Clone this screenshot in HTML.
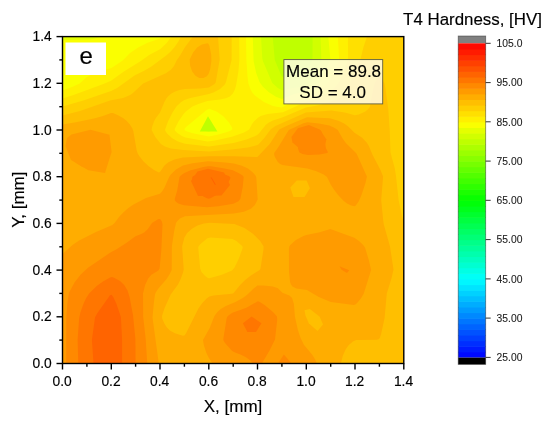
<!DOCTYPE html>
<html><head><meta charset="utf-8"><title>T4 Hardness map</title>
<style>
html,body{margin:0;padding:0;background:#fff;}
body{width:550px;height:423px;overflow:hidden;}
svg{display:block;font-family:"Liberation Sans",sans-serif;}
#axes text{stroke:#000;stroke-width:0.15px;}
#cbar text{stroke:#1a1a1a;stroke-width:0.1px;}
</style></head><body>
<svg width="550" height="423" viewBox="0 0 550 423">
<rect width="550" height="423" fill="#fff"/>
<g id="map">
<rect x="62.5" y="36.6" width="341.3" height="326.9" fill="#bfff00"/>
<path fill="#d1ff00" fill-rule="evenodd" d="M62.5,363.5 403.8,363.5 403.8,36.6 312.6,36.6 312.5,59.6 306.4,72.7 304.4,73.8 283.4,77.0 281.9,76.4 280.9,74.8 274.8,60.1 272.7,36.6 62.5,36.6Z"/>
<path fill="#e4ff00" fill-rule="evenodd" d="M62.5,363.5 403.8,363.5 403.8,36.6 320.5,36.6 321.4,60.1 310.8,82.6 308.6,84.6 305.9,85.9 292.9,87.9 282.4,90.2 280.9,89.8 277.9,87.9 272.3,83.1 263.1,61.6 262.3,58.6 261.0,36.6 62.5,36.6Z"/>
<path fill="#faff00" fill-rule="evenodd" d="M62.5,363.5 403.8,363.5 403.8,36.6 328.3,36.6 330.4,60.1 319.2,83.1 314.4,86.9 307.4,90.8 293.2,94.6 281.9,99.1 275.9,96.7 268.9,92.3 262.9,86.8 259.5,82.1 256.2,73.1 253.6,61.1 252.8,36.6 62.5,36.6ZM202.8,129.6 203.2,128.6 207.4,125.0 208.9,124.4 211.4,125.9 214.4,129.1 213.9,130.1 208.9,131.7 205.4,131.0Z"/>
<path fill="#fff000" fill-rule="evenodd" d="M62.5,363.5 403.8,363.5 403.8,36.6 337.8,36.6 339.2,60.1 335.2,69.6 327.7,83.6 322.3,88.5 315.8,92.6 309.4,95.5 295.0,100.6 281.9,107.4 278.1,107.1 272.9,105.9 263.9,102.1 254.9,95.6 252.6,93.1 250.8,90.1 248.4,83.6 247.4,75.5 246.4,60.1 246.0,36.6 161.6,36.6 159.4,38.7 147.5,42.8 138.5,47.3 130.0,53.0 122.7,60.6 111.5,67.9 100.0,71.1 92.0,74.2 86.5,77.3 79.7,83.6 72.0,87.0 62.5,90.4ZM184.5,130.1 184.7,128.6 186.4,126.8 206.9,109.8 209.4,108.7 216.9,111.8 223.6,116.6 229.0,122.6 231.7,127.1 232.4,129.1 231.0,130.6 227.1,132.1 217.4,134.8 208.9,136.6 192.9,133.2 186.4,131.2Z"/>
<path fill="#ffe000" fill-rule="evenodd" d="M62.5,363.5 403.8,363.5 403.8,36.6 347.9,36.6 348.1,58.1 347.7,61.1 343.9,72.1 339.7,81.6 337.3,85.1 333.3,88.9 326.3,94.1 320.8,97.1 314.6,99.6 304.4,102.6 282.9,112.3 267.5,114.1 260.6,116.1 257.6,118.1 253.9,121.6 251.9,124.3 249.2,129.6 244.0,132.6 231.9,136.8 214.9,140.6 207.4,141.5 185.4,137.4 181.9,135.9 177.4,133.0 174.9,130.6 174.7,129.1 178.5,121.6 183.4,114.2 185.9,111.6 192.4,106.6 198.4,103.9 207.4,101.1 219.9,99.6 225.9,98.3 229.9,96.5 232.9,93.6 234.7,90.1 236.1,85.6 238.4,71.6 239.4,59.6 239.2,36.6 171.4,36.6 166.9,42.7 160.4,48.9 149.1,55.1 140.8,61.1 123.5,71.8 111.0,80.8 103.4,84.1 73.5,95.0 62.5,98.5Z"/>
<path fill="#ffcf00" fill-rule="evenodd" d="M62.5,363.5 403.8,363.5 403.8,36.6 367.1,36.6 363.5,47.1 360.4,59.6 355.3,68.1 348.3,89.6 346.2,93.1 343.3,96.1 337.8,99.3 324.3,103.7 317.4,105.4 305.9,107.4 282.9,117.3 272.9,120.5 268.9,122.6 265.9,124.8 258.9,133.5 256.4,135.6 246.4,139.6 233.4,142.9 208.9,146.5 184.9,143.7 177.9,141.4 171.9,138.1 167.1,133.6 165.4,131.1 165.1,129.6 168.0,121.6 172.5,112.6 176.4,106.6 180.9,102.3 184.4,100.1 189.4,98.3 208.9,94.1 213.5,92.6 220.0,89.1 224.8,84.6 226.0,82.1 231.6,60.1 231.7,36.6 181.0,36.6 178.4,41.4 174.4,47.3 170.7,51.6 166.2,55.6 151.4,66.5 144.6,70.6 134.5,75.6 117.5,87.8 111.0,90.9 84.0,100.2 62.5,106.6Z"/>
<path fill="#ffbf00" fill-rule="evenodd" d="M62.5,363.5 403.8,363.5 403.8,221.9 401.8,215.3 398.6,200.1 396.0,176.1 394.8,168.6 390.5,152.6 389.7,130.1 388.3,109.6 385.6,89.1 384.4,83.1 380.8,77.3 379.8,76.7 378.8,77.0 374.6,83.6 369.8,107.1 367.8,109.5 365.3,111.4 358.8,114.5 354.8,115.3 344.8,112.4 331.3,110.6 305.9,112.4 275.4,125.9 270.6,129.6 264.3,138.1 258.4,144.4 255.9,145.6 247.9,147.4 231.9,149.6 208.9,151.4 183.4,150.0 170.9,148.4 164.9,146.6 160.9,144.0 155.3,137.1 151.6,130.1 152.2,126.6 154.2,121.1 156.2,117.6 159.9,112.7 164.4,102.1 166.3,98.6 168.4,96.0 171.4,93.5 175.1,91.6 179.6,90.1 184.9,89.1 200.4,88.6 208.9,87.6 214.6,84.1 215.7,82.6 219.7,59.6 218.0,36.6 193.0,36.6 184.9,47.3 180.4,55.1 176.9,60.1 174.0,66.1 170.9,69.8 165.9,73.2 143.1,83.6 132.9,93.1 130.2,95.1 123.0,98.0 110.0,100.6 80.0,111.1 62.5,115.5ZM201.5,272.0 200.2,268.5 198.2,247.5 198.8,246.0 200.5,244.0 207.4,238.3 210.4,237.5 232.4,239.0 236.4,241.1 242.2,246.0 242.7,247.0 242.5,248.5 238.9,258.4 234.4,267.8 232.0,270.5 221.9,274.8 209.4,278.2 207.9,277.9 205.4,276.3Z"/>
<path fill="#ffad00" fill-rule="evenodd" d="M62.5,363.5 340.9,363.5 342.8,355.8 345.6,349.5 348.8,344.9 353.3,341.2 356.3,340.1 376.8,339.7 378.8,339.3 379.8,338.0 381.1,334.0 384.6,318.0 386.8,293.5 391.6,278.0 393.5,269.5 390.0,246.5 383.8,224.5 383.2,220.5 381.2,200.1 383.1,176.6 380.5,170.1 372.6,155.1 369.1,146.6 366.7,142.6 361.9,137.6 354.8,133.1 348.3,126.4 344.1,123.6 339.0,121.1 329.8,118.2 306.9,117.2 287.4,125.4 279.2,129.6 269.9,143.7 257.4,157.1 234.4,156.2 209.9,156.3 182.9,157.5 174.4,159.5 168.4,162.2 164.4,165.5 160.4,171.6 158.9,172.6 154.0,170.1 148.4,166.1 143.6,161.6 139.6,156.6 137.7,153.6 136.7,150.6 133.3,131.1 132.4,128.6 129.9,124.6 126.5,120.8 123.0,118.0 118.5,115.4 113.0,113.1 111.0,112.9 102.9,116.1 95.0,118.3 76.0,122.3 62.5,124.6ZM169.9,330.5 166.9,327.6 164.6,324.0 162.2,318.5 162.0,316.0 164.6,308.0 170.7,294.5 178.0,284.5 180.7,279.0 183.2,272.0 183.7,269.0 182.1,246.5 184.4,237.6 187.2,233.0 191.9,228.8 197.5,225.5 203.9,223.5 209.9,222.8 234.4,223.9 244.5,228.0 252.9,233.7 260.4,241.3 263.6,246.5 263.5,249.0 260.5,268.5 259.7,270.0 250.9,275.5 245.1,280.0 240.1,285.0 233.4,293.3 231.9,293.8 213.4,295.5 209.4,296.6 206.9,298.3 202.3,303.0 198.4,308.5 185.9,333.4 184.4,335.6 182.9,335.8 174.9,333.2ZM199.4,77.9 203.4,77.9 206.9,76.3 208.8,73.6 210.2,69.1 211.4,61.1 211.2,54.6 209.4,45.7 208.4,43.8 207.4,43.2 201.9,44.4 197.1,47.6 193.1,52.6 189.7,59.6 190.1,65.6 192.2,71.6 195.4,75.8Z"/>
<path fill="#ff9b00" fill-rule="evenodd" d="M62.5,363.5 158.8,363.5 152.5,317.5 153.9,302.5 154.9,295.0 155.7,292.5 158.4,288.5 166.6,279.0 169.9,273.8 171.7,270.0 171.9,246.0 174.2,231.0 176.0,223.0 177.4,220.9 179.9,218.6 184.9,216.2 233.9,213.6 243.9,211.8 250.9,208.8 254.9,205.0 257.7,199.6 256.3,177.6 255.5,175.6 252.9,172.4 248.0,168.6 241.9,165.7 233.9,163.4 225.4,162.4 207.9,161.2 192.4,163.3 182.9,165.6 176.0,169.6 170.8,174.6 169.1,177.1 164.4,187.7 161.9,191.7 159.9,193.8 146.0,198.0 133.5,204.5 128.3,208.0 123.5,212.2 119.0,217.0 114.6,223.0 112.4,225.0 96.0,232.0 79.1,240.5 72.5,245.1 62.5,254.1ZM203.0,340.0 203.8,345.0 206.2,352.5 208.6,357.5 212.5,363.5 316.9,363.5 315.2,359.5 312.4,354.9 303.9,344.7 300.6,338.0 297.9,330.0 294.9,316.5 293.9,304.0 292.1,298.0 289.4,295.4 282.4,292.7 277.9,288.3 272.9,286.6 263.4,285.5 257.4,285.6 253.9,288.3 246.9,295.0 242.4,298.2 235.4,302.1 225.9,305.9 220.8,309.0 217.4,312.1 214.4,316.0 209.7,328.0ZM357.8,302.3 361.2,298.0 363.8,293.5 371.1,270.0 368.8,260.0 365.0,247.5 363.2,245.0 359.0,241.0 354.3,237.8 330.3,229.1 319.8,232.3 306.4,235.1 303.4,236.1 295.9,240.0 290.3,245.0 289.3,246.5 288.9,248.5 289.0,272.0 290.1,282.0 291.0,284.5 292.4,286.5 296.4,288.4 306.9,290.0 318.8,297.0 330.8,302.1 353.8,304.9 355.8,304.3ZM355.8,205.5 358.9,201.0 361.3,195.6 365.5,183.1 366.9,176.6 356.5,153.6 345.8,143.1 342.3,138.1 337.8,130.1 333.8,127.4 329.3,125.5 318.8,123.5 307.4,122.2 303.4,123.3 288.8,130.1 278.4,147.1 274.2,153.1 274.1,154.6 274.9,157.1 277.8,162.1 280.1,164.1 282.4,165.1 307.4,168.4 316.4,171.2 323.7,174.6 327.0,177.1 330.7,184.6 333.9,189.6 338.3,195.3 343.8,201.1 347.0,203.5 351.2,205.5 354.3,206.3ZM87.0,168.7 95.0,166.9 101.0,163.7 104.9,159.1 106.5,155.6 107.0,153.1 105.0,145.1 103.4,142.1 101.5,139.7 99.0,137.7 96.0,136.2 88.0,134.1 86.5,134.3 84.0,135.7 77.2,141.6 72.3,148.1 70.4,151.6 69.8,153.6 72.3,158.6 76.2,163.1 81.5,166.6Z"/>
<path fill="#ff8900" fill-rule="evenodd" d="M66.2,363.5 147.2,363.5 145.8,340.0 143.2,317.0 143.0,293.5 145.1,285.0 148.2,278.5 151.4,274.8 158.4,270.4 159.6,268.5 161.3,250.5 162.5,224.5 161.9,221.6 160.4,219.2 159.4,218.9 158.4,219.1 152.0,223.0 147.9,229.1 144.5,232.3 141.3,234.0 135.5,236.3 127.0,242.6 116.5,249.3 110.0,252.8 88.0,267.8 80.5,274.8 74.5,282.5 68.9,293.0 67.5,302.0 66.3,318.0ZM253.1,363.5 261.9,363.5 269.8,350.0 275.0,339.5 277.2,320.0 277.0,316.5 273.0,312.0 264.9,305.3 259.9,302.0 257.9,301.2 246.4,307.8 232.4,312.7 227.8,316.0 226.7,318.0 223.3,339.0 223.5,340.5 225.0,343.0 231.9,350.7 233.9,352.0 240.4,354.4 245.6,357.0 250.4,360.4ZM174.9,200.5 176.2,202.0 178.4,203.4 183.9,205.3 206.9,207.2 218.4,206.2 233.4,203.8 238.4,201.2 240.3,199.1 242.8,186.6 243.7,177.1 242.6,175.6 239.9,173.7 232.9,170.3 223.4,168.2 210.9,166.3 207.9,166.2 203.4,167.0 190.1,170.6 183.9,173.2 180.9,175.4 179.5,177.1 177.2,190.6 174.7,199.1ZM299.4,152.6 302.5,154.1 307.9,155.0 319.6,154.6 327.4,153.1 327.8,152.1 326.1,148.6 322.0,132.6 320.9,130.6 315.6,128.6 306.9,127.0 303.9,127.9 299.7,130.1 298.7,132.1 297.7,143.1 298.1,149.1Z"/>
<path fill="#ff7600" fill-rule="evenodd" d="M78.3,363.5 135.6,363.5 135.4,339.0 133.0,315.1 129.6,297.0 127.5,290.5 124.2,285.0 120.0,281.0 114.6,278.0 112.0,277.1 110.0,277.4 103.0,281.4 97.0,285.7 89.1,293.5 86.2,298.0 83.6,303.5 80.4,312.5 79.1,318.5 77.6,340.0ZM192.0,178.1 194.3,185.6 197.9,191.6 200.4,194.2 203.4,196.5 206.9,198.3 208.9,198.7 211.0,198.1 215.4,195.6 221.9,190.5 227.2,184.1 229.9,179.6 230.5,177.6 228.9,176.1 224.7,174.6 208.9,171.0 202.9,172.5 195.5,175.1 192.7,176.6Z"/>
<path fill="#ff6400" fill-rule="evenodd" d="M93.5,363.5 122.1,363.5 122.1,340.0 120.9,317.0 116.3,303.5 113.2,297.0 111.5,294.8 110.0,295.3 97.1,313.5 95.0,317.5 91.9,340.0ZM208.9,179.6 210.4,178.8 211.2,177.6 210.3,176.6 208.9,176.2 207.7,176.6 206.9,177.6 207.8,179.1Z"/>
<polygon fill="#e4ff00" points="63.0,37.2 101.0,37.2 90.0,39.4 63.0,40.3"/>
<polygon fill="#ff8900" points="291.4,137.0 297.9,128.3 308.8,125.0 319.7,129.4 326.3,139.2 324.1,151.2 313.2,153.4 300.1,149.0 292.5,142.5"/>
<polygon fill="#ff9b00" points="65.5,146.0 67.0,138.0 71.5,134.5 90.5,129.8 109.5,134.8 111.6,152.0 105.0,173.0 88.4,170.3 71.0,160.0"/>
<polygon fill="#bfff00" points="208.0,116.3 199.8,131.4 217.4,131.4"/>
<polygon fill="#ff7600" points="191.0,181.0 197.5,171.5 208.0,168.8 224.0,172.5 230.0,185.0 221.5,195.5 198.0,196.0"/>
<polygon fill="#ff6400" points="210.6,177.6 211.5,177.2 215.8,184.6 215.0,185.0"/>
<polygon fill="#ff8900" points="339.5,266.3 349.2,270.2 347.0,273.0 341.5,269.8"/>
<polygon fill="#ff8900" points="278.4,362.7 283.9,354.5 291.0,362.7"/>
<polygon fill="#ff7600" points="242.9,323.3 251.6,316.5 261.5,323.3 256.0,332.0 247.3,332.0"/>
<polygon fill="#ffbf00" points="290.3,187.4 296.8,180.6 306.6,180.6 309.9,188.3 304.5,197.0 293.5,197.0"/>
<polygon fill="#ffbf00" points="304.5,310.2 309.9,309.1 319.7,316.7 323.0,324.4 317.5,330.9 308.8,323.3 305.5,315.6"/>
</g>
<g id="cbar">
<rect x="458.2" y="36.0" width="27.5" height="7.3" fill="#808080"/>
<rect x="458.2" y="357.4" width="27.5" height="7.0" fill="#000"/>
<rect x="458.2" y="351.79" width="27.5" height="5.61" fill="#0009ff"/>
<rect x="458.2" y="346.18" width="27.5" height="6.21" fill="#001bff"/>
<rect x="458.2" y="340.57" width="27.5" height="6.21" fill="#002eff"/>
<rect x="458.2" y="334.96" width="27.5" height="6.21" fill="#0040ff"/>
<rect x="458.2" y="329.36" width="27.5" height="6.21" fill="#0052ff"/>
<rect x="458.2" y="323.75" width="27.5" height="6.21" fill="#0064ff"/>
<rect x="458.2" y="318.14" width="27.5" height="6.21" fill="#0076ff"/>
<rect x="458.2" y="312.53" width="27.5" height="6.21" fill="#0089ff"/>
<rect x="458.2" y="306.92" width="27.5" height="6.21" fill="#009bff"/>
<rect x="458.2" y="301.31" width="27.5" height="6.21" fill="#00adff"/>
<rect x="458.2" y="295.70" width="27.5" height="6.21" fill="#00bfff"/>
<rect x="458.2" y="290.09" width="27.5" height="6.21" fill="#00d1ff"/>
<rect x="458.2" y="284.48" width="27.5" height="6.21" fill="#00e4ff"/>
<rect x="458.2" y="278.88" width="27.5" height="6.21" fill="#00f6ff"/>
<rect x="458.2" y="273.27" width="27.5" height="6.21" fill="#00fff6"/>
<rect x="458.2" y="267.66" width="27.5" height="6.21" fill="#00ffe4"/>
<rect x="458.2" y="262.05" width="27.5" height="6.21" fill="#00ffd1"/>
<rect x="458.2" y="256.44" width="27.5" height="6.21" fill="#00ffbf"/>
<rect x="458.2" y="250.83" width="27.5" height="6.21" fill="#00ffad"/>
<rect x="458.2" y="245.22" width="27.5" height="6.21" fill="#00ff9b"/>
<rect x="458.2" y="239.61" width="27.5" height="6.21" fill="#00ff89"/>
<rect x="458.2" y="234.00" width="27.5" height="6.21" fill="#00ff76"/>
<rect x="458.2" y="228.39" width="27.5" height="6.21" fill="#00ff64"/>
<rect x="458.2" y="222.79" width="27.5" height="6.21" fill="#00ff52"/>
<rect x="458.2" y="217.18" width="27.5" height="6.21" fill="#00ff40"/>
<rect x="458.2" y="211.57" width="27.5" height="6.21" fill="#00ff2e"/>
<rect x="458.2" y="205.96" width="27.5" height="6.21" fill="#00ff1b"/>
<rect x="458.2" y="200.35" width="27.5" height="6.21" fill="#00ff09"/>
<rect x="458.2" y="194.74" width="27.5" height="6.21" fill="#09ff00"/>
<rect x="458.2" y="189.13" width="27.5" height="6.21" fill="#1bff00"/>
<rect x="458.2" y="183.52" width="27.5" height="6.21" fill="#2eff00"/>
<rect x="458.2" y="177.91" width="27.5" height="6.21" fill="#40ff00"/>
<rect x="458.2" y="172.31" width="27.5" height="6.21" fill="#52ff00"/>
<rect x="458.2" y="166.70" width="27.5" height="6.21" fill="#64ff00"/>
<rect x="458.2" y="161.09" width="27.5" height="6.21" fill="#76ff00"/>
<rect x="458.2" y="155.48" width="27.5" height="6.21" fill="#89ff00"/>
<rect x="458.2" y="149.87" width="27.5" height="6.21" fill="#9bff00"/>
<rect x="458.2" y="144.26" width="27.5" height="6.21" fill="#adff00"/>
<rect x="458.2" y="138.65" width="27.5" height="6.21" fill="#bfff00"/>
<rect x="458.2" y="133.04" width="27.5" height="6.21" fill="#d1ff00"/>
<rect x="458.2" y="127.43" width="27.5" height="6.21" fill="#e4ff00"/>
<rect x="458.2" y="121.82" width="27.5" height="6.21" fill="#faff00"/>
<rect x="458.2" y="116.22" width="27.5" height="6.21" fill="#fff000"/>
<rect x="458.2" y="110.61" width="27.5" height="6.21" fill="#ffe000"/>
<rect x="458.2" y="105.00" width="27.5" height="6.21" fill="#ffcf00"/>
<rect x="458.2" y="99.39" width="27.5" height="6.21" fill="#ffbf00"/>
<rect x="458.2" y="93.78" width="27.5" height="6.21" fill="#ffad00"/>
<rect x="458.2" y="88.17" width="27.5" height="6.21" fill="#ff9b00"/>
<rect x="458.2" y="82.56" width="27.5" height="6.21" fill="#ff8900"/>
<rect x="458.2" y="76.95" width="27.5" height="6.21" fill="#ff7600"/>
<rect x="458.2" y="71.34" width="27.5" height="6.21" fill="#ff6400"/>
<rect x="458.2" y="65.74" width="27.5" height="6.21" fill="#ff5200"/>
<rect x="458.2" y="60.13" width="27.5" height="6.21" fill="#ff4000"/>
<rect x="458.2" y="54.52" width="27.5" height="6.21" fill="#ff2e00"/>
<rect x="458.2" y="48.91" width="27.5" height="6.21" fill="#ff1b00"/>
<rect x="458.2" y="43.30" width="27.5" height="6.21" fill="#ff0900"/>
<rect x="458.2" y="36.0" width="27.5" height="328.4" fill="none" stroke="#333" stroke-opacity="0.6" stroke-width="0.8"/>
<line x1="485.7" y1="43.3" x2="490.7" y2="43.3" stroke="#333" stroke-width="1"/>
<text x="496.6" y="47.0" font-size="10.3" fill="#1a1a1a">105.0</text>
<line x1="485.7" y1="82.6" x2="490.7" y2="82.6" stroke="#333" stroke-width="1"/>
<text x="496.6" y="86.3" font-size="10.3" fill="#1a1a1a">95.00</text>
<line x1="485.7" y1="121.8" x2="490.7" y2="121.8" stroke="#333" stroke-width="1"/>
<text x="496.6" y="125.5" font-size="10.3" fill="#1a1a1a">85.00</text>
<line x1="485.7" y1="161.1" x2="490.7" y2="161.1" stroke="#333" stroke-width="1"/>
<text x="496.6" y="164.8" font-size="10.3" fill="#1a1a1a">75.00</text>
<line x1="485.7" y1="200.3" x2="490.7" y2="200.3" stroke="#333" stroke-width="1"/>
<text x="496.6" y="204.0" font-size="10.3" fill="#1a1a1a">65.00</text>
<line x1="485.7" y1="239.6" x2="490.7" y2="239.6" stroke="#333" stroke-width="1"/>
<text x="496.6" y="243.3" font-size="10.3" fill="#1a1a1a">55.00</text>
<line x1="485.7" y1="278.9" x2="490.7" y2="278.9" stroke="#333" stroke-width="1"/>
<text x="496.6" y="282.6" font-size="10.3" fill="#1a1a1a">45.00</text>
<line x1="485.7" y1="318.1" x2="490.7" y2="318.1" stroke="#333" stroke-width="1"/>
<text x="496.6" y="321.8" font-size="10.3" fill="#1a1a1a">35.00</text>
<line x1="485.7" y1="357.4" x2="490.7" y2="357.4" stroke="#333" stroke-width="1"/>
<text x="496.6" y="361.1" font-size="10.3" fill="#1a1a1a">25.00</text>
</g>
<g id="axes" fill="#000">
<rect x="62.5" y="36.6" width="341.3" height="326.9" fill="none" stroke="#000" stroke-width="1.4"/>
<line x1="62.5" y1="363.5" x2="62.5" y2="369.5" stroke="#000" stroke-width="1.4"/>
<line x1="62.5" y1="363.5" x2="56.5" y2="363.5" stroke="#000" stroke-width="1.4"/>
<text x="62.2" y="386.0" font-size="13.8" text-anchor="middle">0.0</text>
<text x="51.8" y="368.1" font-size="13.8" text-anchor="end">0.0</text>
<line x1="86.9" y1="363.5" x2="86.9" y2="366.7" stroke="#000" stroke-width="1.4"/>
<line x1="62.5" y1="340.1" x2="59.3" y2="340.1" stroke="#000" stroke-width="1.4"/>
<line x1="111.3" y1="363.5" x2="111.3" y2="369.5" stroke="#000" stroke-width="1.4"/>
<line x1="62.5" y1="316.8" x2="56.5" y2="316.8" stroke="#000" stroke-width="1.4"/>
<text x="111.0" y="386.0" font-size="13.8" text-anchor="middle">0.2</text>
<text x="51.8" y="321.4" font-size="13.8" text-anchor="end">0.2</text>
<line x1="135.6" y1="363.5" x2="135.6" y2="366.7" stroke="#000" stroke-width="1.4"/>
<line x1="62.5" y1="293.4" x2="59.3" y2="293.4" stroke="#000" stroke-width="1.4"/>
<line x1="160.0" y1="363.5" x2="160.0" y2="369.5" stroke="#000" stroke-width="1.4"/>
<line x1="62.5" y1="270.1" x2="56.5" y2="270.1" stroke="#000" stroke-width="1.4"/>
<text x="159.7" y="386.0" font-size="13.8" text-anchor="middle">0.4</text>
<text x="51.8" y="274.7" font-size="13.8" text-anchor="end">0.4</text>
<line x1="184.4" y1="363.5" x2="184.4" y2="366.7" stroke="#000" stroke-width="1.4"/>
<line x1="62.5" y1="246.8" x2="59.3" y2="246.8" stroke="#000" stroke-width="1.4"/>
<line x1="208.8" y1="363.5" x2="208.8" y2="369.5" stroke="#000" stroke-width="1.4"/>
<line x1="62.5" y1="223.4" x2="56.5" y2="223.4" stroke="#000" stroke-width="1.4"/>
<text x="208.5" y="386.0" font-size="13.8" text-anchor="middle">0.6</text>
<text x="51.8" y="228.0" font-size="13.8" text-anchor="end">0.6</text>
<line x1="233.2" y1="363.5" x2="233.2" y2="366.7" stroke="#000" stroke-width="1.4"/>
<line x1="62.5" y1="200.1" x2="59.3" y2="200.1" stroke="#000" stroke-width="1.4"/>
<line x1="257.5" y1="363.5" x2="257.5" y2="369.5" stroke="#000" stroke-width="1.4"/>
<line x1="62.5" y1="176.7" x2="56.5" y2="176.7" stroke="#000" stroke-width="1.4"/>
<text x="257.2" y="386.0" font-size="13.8" text-anchor="middle">0.8</text>
<text x="51.8" y="181.3" font-size="13.8" text-anchor="end">0.8</text>
<line x1="281.9" y1="363.5" x2="281.9" y2="366.7" stroke="#000" stroke-width="1.4"/>
<line x1="62.5" y1="153.3" x2="59.3" y2="153.3" stroke="#000" stroke-width="1.4"/>
<line x1="306.3" y1="363.5" x2="306.3" y2="369.5" stroke="#000" stroke-width="1.4"/>
<line x1="62.5" y1="130.0" x2="56.5" y2="130.0" stroke="#000" stroke-width="1.4"/>
<text x="306.0" y="386.0" font-size="13.8" text-anchor="middle">1.0</text>
<text x="51.8" y="134.6" font-size="13.8" text-anchor="end">1.0</text>
<line x1="330.7" y1="363.5" x2="330.7" y2="366.7" stroke="#000" stroke-width="1.4"/>
<line x1="62.5" y1="106.7" x2="59.3" y2="106.7" stroke="#000" stroke-width="1.4"/>
<line x1="355.0" y1="363.5" x2="355.0" y2="369.5" stroke="#000" stroke-width="1.4"/>
<line x1="62.5" y1="83.3" x2="56.5" y2="83.3" stroke="#000" stroke-width="1.4"/>
<text x="354.7" y="386.0" font-size="13.8" text-anchor="middle">1.2</text>
<text x="51.8" y="87.9" font-size="13.8" text-anchor="end">1.2</text>
<line x1="379.4" y1="363.5" x2="379.4" y2="366.7" stroke="#000" stroke-width="1.4"/>
<line x1="62.5" y1="59.9" x2="59.3" y2="59.9" stroke="#000" stroke-width="1.4"/>
<line x1="403.8" y1="363.5" x2="403.8" y2="369.5" stroke="#000" stroke-width="1.4"/>
<line x1="62.5" y1="36.6" x2="56.5" y2="36.6" stroke="#000" stroke-width="1.4"/>
<text x="403.5" y="386.0" font-size="13.8" text-anchor="middle">1.4</text>
<text x="51.8" y="41.2" font-size="13.8" text-anchor="end">1.4</text>
<text transform="translate(233,411.8) scale(1.05,1)" font-size="16.2" text-anchor="middle">X, [mm]</text>
<text transform="translate(23.5,199.7) rotate(-90) scale(1.05,1)" font-size="16.2" text-anchor="middle">Y, [mm]</text>
<text transform="translate(472.5,24.7) scale(1.03,1)" font-size="16.4" text-anchor="middle">T4 Hardness, [HV]</text>
<rect x="65.5" y="42.5" width="40.5" height="32.5" fill="#fff"/>
<text x="86.2" y="63.5" font-size="24" text-anchor="middle">e</text>
<rect x="283.9" y="59.6" width="98.8" height="44.3" fill="#fffdf0" fill-opacity="0.82" stroke="#5f5f40" stroke-width="0.9"/>
<text transform="translate(333.6,77.3) scale(1.05,1)" font-size="16.2" text-anchor="middle">Mean = 89.8</text>
<text transform="translate(332.6,97.5) scale(1.05,1)" font-size="16.2" text-anchor="middle">SD = 4.0</text>
</g>
</svg>
</body></html>
